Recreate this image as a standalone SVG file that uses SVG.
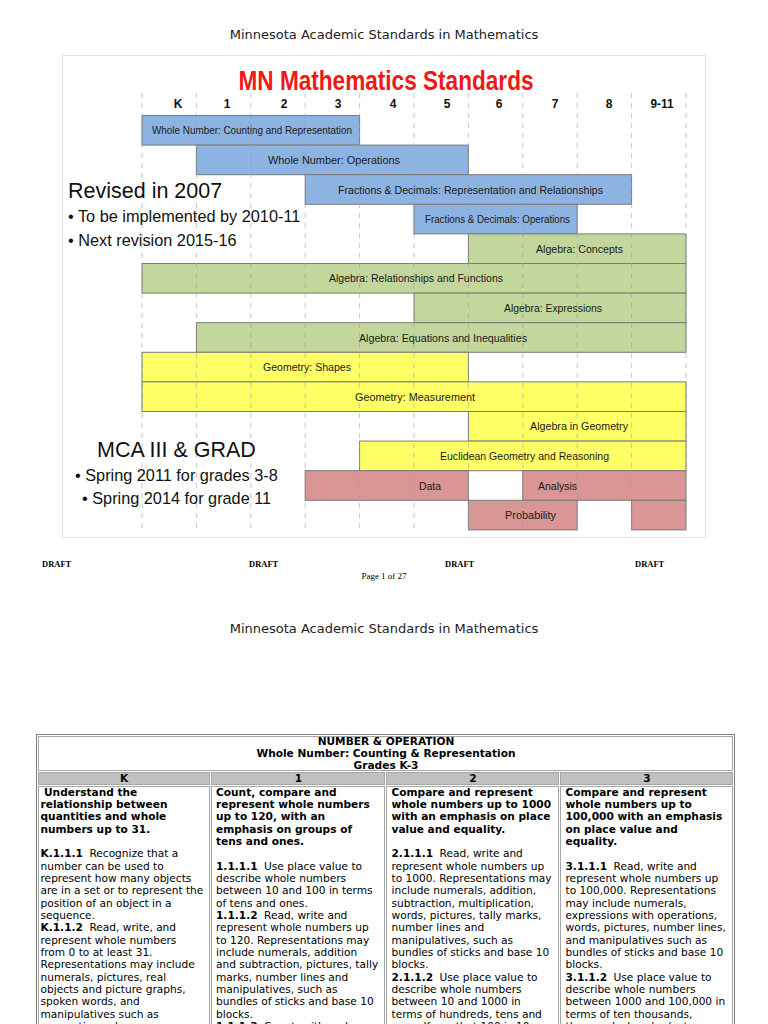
<svg xmlns="http://www.w3.org/2000/svg" width="768" height="1024" viewBox="0 0 768 1024">
<style>
.hdr{font-family:"DejaVu Sans",sans-serif;font-size:13px;fill:#222;text-anchor:middle}
.draft{font-family:"Liberation Serif",serif;font-size:8.5px;fill:#000;font-weight:bold}
.title{font-family:"Liberation Sans",sans-serif;font-weight:bold;font-size:27px;fill:#f01818;text-anchor:middle}
.col{font-family:"Liberation Sans",sans-serif;font-weight:bold;font-size:12px;fill:#111;text-anchor:middle}
.bl{font-family:"Liberation Sans",sans-serif;font-size:11px;fill:#1a1a1a}
.big{font-family:"Liberation Sans",sans-serif;font-size:21.5px;fill:#111}
.med{font-family:"Liberation Sans",sans-serif;font-size:16.3px;fill:#111}
.blue{fill:#8db3e2;stroke:#7a7a7a;stroke-width:1}
.green{fill:#c3d69b;stroke:#7a7a7a;stroke-width:1}
.yel{fill:#ffff66;stroke:#7a7a7a;stroke-width:1}
.pink{fill:#d99694;stroke:#7a7a7a;stroke-width:1}
.grid line{stroke:#9a9a9a;stroke-opacity:0.55;stroke-width:1;stroke-dasharray:5 5}
.tb{font-family:"DejaVu Sans",sans-serif;font-size:10.6px;fill:#000}
.b{font-weight:bold}
.cell{fill:#fff;stroke:#a6a6a6;stroke-width:1}
.hcell{fill:#c0c0c0;stroke:#a6a6a6;stroke-width:1}
</style>

<rect x="0" y="0" width="768" height="1024" fill="#fff"/>

<!-- Page 1 header -->
<text class="hdr" x="384" y="38.5">Minnesota Academic Standards in Mathematics</text>

<!-- Chart frame -->
<rect x="62.5" y="55.5" width="643" height="482" fill="none" stroke="#e4e4e4" stroke-width="1"/>

<text class="title" x="386" y="90" textLength="295" lengthAdjust="spacingAndGlyphs">MN Mathematics Standards</text>

<g id="grade-labels">
<text class="col" x="178" y="107.5">K</text>
<text class="col" x="227" y="107.5">1</text>
<text class="col" x="284" y="107.5">2</text>
<text class="col" x="338" y="107.5">3</text>
<text class="col" x="393" y="107.5">4</text>
<text class="col" x="447" y="107.5">5</text>
<text class="col" x="499" y="107.5">6</text>
<text class="col" x="555" y="107.5">7</text>
<text class="col" x="609" y="107.5">8</text>
<text class="col" x="662" y="107.5" textLength="23" lengthAdjust="spacingAndGlyphs">9-11</text>
</g>

<!-- Bars -->
<g id="bar-wn-counting"><rect class="blue" x="142" y="115.5" width="217.6" height="29.6"/><text class="bl" x="152" y="134.3" textLength="200" lengthAdjust="spacingAndGlyphs">Whole Number: Counting and Representation</text></g>
<g id="bar-wn-operations"><rect class="blue" x="196.4" y="145.1" width="272" height="29.6"/><text class="bl" x="268" y="163.9" textLength="132" lengthAdjust="spacingAndGlyphs">Whole Number: Operations</text></g>
<g id="bar-fd-representation"><rect class="blue" x="305.2" y="174.7" width="326.4" height="29.6"/><text class="bl" x="338" y="193.5" textLength="265" lengthAdjust="spacingAndGlyphs">Fractions &amp; Decimals: Representation and Relationships</text></g>
<g id="bar-fd-operations"><rect class="blue" x="414" y="204.3" width="163.2" height="29.6"/><text class="bl" x="425" y="223.1" textLength="145" lengthAdjust="spacingAndGlyphs">Fractions &amp; Decimals: Operations</text></g>
<g id="bar-alg-concepts"><rect class="green" x="468.4" y="233.9" width="217.6" height="29.6"/><text class="bl" x="536" y="252.7" textLength="87" lengthAdjust="spacingAndGlyphs">Algebra: Concepts</text></g>
<g id="bar-alg-relationships"><rect class="green" x="142" y="263.5" width="544" height="29.6"/><text class="bl" x="329" y="282.3" textLength="174" lengthAdjust="spacingAndGlyphs">Algebra: Relationships and Functions</text></g>
<g id="bar-alg-expressions"><rect class="green" x="414" y="293.1" width="272" height="29.6"/><text class="bl" x="504" y="311.9" textLength="98" lengthAdjust="spacingAndGlyphs">Algebra: Expressions</text></g>
<g id="bar-alg-equations"><rect class="green" x="196.4" y="322.7" width="489.6" height="29.6"/><text class="bl" x="359" y="341.5" textLength="168" lengthAdjust="spacingAndGlyphs">Algebra: Equations and Inequalities</text></g>
<g id="bar-geo-shapes"><rect class="yel" x="142" y="352.3" width="326.4" height="29.6"/><text class="bl" x="263" y="371.1" textLength="88" lengthAdjust="spacingAndGlyphs">Geometry: Shapes</text></g>
<g id="bar-geo-measurement"><rect class="yel" x="142" y="381.9" width="544" height="29.6"/><text class="bl" x="355" y="400.7" textLength="120" lengthAdjust="spacingAndGlyphs">Geometry: Measurement</text></g>
<g id="bar-alg-geometry"><rect class="yel" x="468.4" y="411.5" width="217.6" height="29.6"/><text class="bl" x="530" y="430.3" textLength="98" lengthAdjust="spacingAndGlyphs">Algebra in Geometry</text></g>
<g id="bar-euclidean"><rect class="yel" x="359.6" y="441.1" width="326.4" height="29.6"/><text class="bl" x="440" y="459.9" textLength="169" lengthAdjust="spacingAndGlyphs">Euclidean Geometry and Reasoning</text></g>
<g id="bar-data"><rect class="pink" x="305.2" y="470.7" width="163.2" height="29.6"/><text class="bl" x="419" y="489.5" textLength="22" lengthAdjust="spacingAndGlyphs">Data</text></g>
<g id="bar-analysis"><rect class="pink" x="522.8" y="470.7" width="163.2" height="29.6"/><text class="bl" x="538" y="489.5" textLength="39" lengthAdjust="spacingAndGlyphs">Analysis</text></g>
<g id="bar-probability"><rect class="pink" x="468.4" y="500.3" width="108.8" height="29.6"/><text class="bl" x="505" y="519.1" textLength="51" lengthAdjust="spacingAndGlyphs">Probability</text></g>
<g id="bar-probability-hs"><rect class="pink" x="631.6" y="500.3" width="54.4" height="29.6"/></g>

<!-- Grid (connectors) -->
<g id="connectors" class="grid">
<line x1="142" y1="93" x2="142" y2="530"/>
<line x1="196.4" y1="93" x2="196.4" y2="530"/>
<line x1="250.8" y1="93" x2="250.8" y2="530"/>
<line x1="305.2" y1="93" x2="305.2" y2="530"/>
<line x1="359.6" y1="93" x2="359.6" y2="530"/>
<line x1="414" y1="93" x2="414" y2="530"/>
<line x1="468.4" y1="93" x2="468.4" y2="530"/>
<line x1="522.8" y1="93" x2="522.8" y2="530"/>
<line x1="577.2" y1="93" x2="577.2" y2="530"/>
<line x1="631.6" y1="93" x2="631.6" y2="530"/>
<line x1="686" y1="93" x2="686" y2="530"/>
</g>

<!-- Left texts -->
<g id="revised">
<text class="big" x="68" y="197.5">Revised in 2007</text>
<text class="med" x="68" y="222">• To be implemented by 2010-11</text>
<text class="med" x="68" y="246">• Next revision 2015-16</text>
</g>
<g id="mca">
<text class="big" x="97" y="456.5">MCA III &amp; GRAD</text>
<text class="med" x="75" y="481">• Spring 2011 for grades 3-8</text>
<text class="med" x="82" y="504">• Spring 2014 for grade 11</text>
</g>

<!-- Footer -->
<g id="footer">
<text class="draft" x="42" y="567">DRAFT</text>
<text class="draft" x="249" y="567">DRAFT</text>
<text class="draft" x="445" y="567">DRAFT</text>
<text class="draft" x="635" y="567">DRAFT</text>
<text class="draft" x="384" y="579" text-anchor="middle" style="font-size:9px;font-weight:normal">Page 1 of 27</text>
</g>

<!-- Page 2 header -->
<text class="hdr" x="384" y="632.5">Minnesota Academic Standards in Mathematics</text>

<!-- Table -->
<g id="table">
<rect x="36.5" y="734.5" width="698" height="320" fill="#fff" stroke="#7f7f7f" stroke-width="1"/>
<rect class="cell" x="38.5" y="736.5" width="694" height="34"/>
<text class="tb b" x="386" y="744.5" text-anchor="middle">NUMBER &amp; OPERATION</text>
<text class="tb b" x="386" y="756.8" text-anchor="middle">Whole Number: Counting &amp; Representation</text>
<text class="tb b" x="386" y="769" text-anchor="middle">Grades K-3</text>
<rect class="hcell" x="38.5" y="772.5" width="171" height="12"/>
<rect class="hcell" x="211.5" y="772.5" width="173" height="12"/>
<rect class="hcell" x="386.5" y="772.5" width="172" height="12"/>
<rect class="hcell" x="560.5" y="772.5" width="172" height="12"/>
<text class="tb b" x="124" y="782" text-anchor="middle">K</text>
<text class="tb b" x="298.5" y="782" text-anchor="middle">1</text>
<text class="tb b" x="473" y="782" text-anchor="middle">2</text>
<text class="tb b" x="647" y="782" text-anchor="middle">3</text>
<rect class="cell" x="38.5" y="786.5" width="171" height="260"/>
<rect class="cell" x="211.5" y="786.5" width="173" height="260"/>
<rect class="cell" x="386.5" y="786.5" width="172" height="260"/>
<rect class="cell" x="560.5" y="786.5" width="172" height="260"/>
</g>

<g id="col-k">
<text class="tb" y="795.5">
<tspan class="b" x="44">Understand the</tspan>
<tspan class="b" x="40.5" dy="12.35">relationship between</tspan>
<tspan class="b" x="40.5" dy="12.35">quantities and whole</tspan>
<tspan class="b" x="40.5" dy="12.35">numbers up to 31.</tspan>
<tspan class="b" x="40.5" dy="24.7">K.1.1.1</tspan><tspan dx="6.5">Recognize that a</tspan>
<tspan x="40.5" dy="12.35">number can be used to</tspan>
<tspan x="40.5" dy="12.35">represent how many objects</tspan>
<tspan x="40.5" dy="12.35">are in a set or to represent the</tspan>
<tspan x="40.5" dy="12.35">position of an object in a</tspan>
<tspan x="40.5" dy="12.35">sequence.</tspan>
<tspan class="b" x="40.5" dy="12.35">K.1.1.2</tspan><tspan dx="6.5">Read, write, and</tspan>
<tspan x="40.5" dy="12.35">represent whole numbers</tspan>
<tspan x="40.5" dy="12.35">from 0 to at least 31.</tspan>
<tspan x="40.5" dy="12.35">Representations may include</tspan>
<tspan x="40.5" dy="12.35">numerals, pictures, real</tspan>
<tspan x="40.5" dy="12.35">objects and picture graphs,</tspan>
<tspan x="40.5" dy="12.35">spoken words, and</tspan>
<tspan x="40.5" dy="12.35">manipulatives such as</tspan>
<tspan x="40.5" dy="12.35">connecting cubes.</tspan>
</text>
</g>

<g id="col-1">
<text class="tb" y="795.5">
<tspan class="b" x="216">Count, compare and</tspan>
<tspan class="b" x="216" dy="12.35">represent whole numbers</tspan>
<tspan class="b" x="216" dy="12.35">up to 120, with an</tspan>
<tspan class="b" x="216" dy="12.35">emphasis on groups of</tspan>
<tspan class="b" x="216" dy="12.35">tens and ones.</tspan>
<tspan class="b" x="216" dy="24.7">1.1.1.1</tspan><tspan dx="6.5">Use place value to</tspan>
<tspan x="216" dy="12.35">describe whole numbers</tspan>
<tspan x="216" dy="12.35">between 10 and 100 in terms</tspan>
<tspan x="216" dy="12.35">of tens and ones.</tspan>
<tspan class="b" x="216" dy="12.35">1.1.1.2</tspan><tspan dx="6.5">Read, write and</tspan>
<tspan x="216" dy="12.35">represent whole numbers up</tspan>
<tspan x="216" dy="12.35">to 120. Representations may</tspan>
<tspan x="216" dy="12.35">include numerals, addition</tspan>
<tspan x="216" dy="12.35">and subtraction, pictures, tally</tspan>
<tspan x="216" dy="12.35">marks, number lines and</tspan>
<tspan x="216" dy="12.35">manipulatives, such as</tspan>
<tspan x="216" dy="12.35">bundles of sticks and base 10</tspan>
<tspan x="216" dy="12.35">blocks.</tspan>
<tspan class="b" x="216" dy="12.35">1.1.1.3</tspan><tspan dx="6.5">Count, with and</tspan>
</text>
</g>

<g id="col-2">
<text class="tb" y="795.5">
<tspan class="b" x="391.5">Compare and represent</tspan>
<tspan class="b" x="391.5" dy="12.35">whole numbers up to 1000</tspan>
<tspan class="b" x="391.5" dy="12.35">with an emphasis on place</tspan>
<tspan class="b" x="391.5" dy="12.35">value and equality.</tspan>
<tspan class="b" x="391.5" dy="24.7">2.1.1.1</tspan><tspan dx="6.5">Read, write and</tspan>
<tspan x="391.5" dy="12.35">represent whole numbers up</tspan>
<tspan x="391.5" dy="12.35">to 1000. Representations may</tspan>
<tspan x="391.5" dy="12.35">include numerals, addition,</tspan>
<tspan x="391.5" dy="12.35">subtraction, multiplication,</tspan>
<tspan x="391.5" dy="12.35">words, pictures, tally marks,</tspan>
<tspan x="391.5" dy="12.35">number lines and</tspan>
<tspan x="391.5" dy="12.35">manipulatives, such as</tspan>
<tspan x="391.5" dy="12.35">bundles of sticks and base 10</tspan>
<tspan x="391.5" dy="12.35">blocks.</tspan>
<tspan class="b" x="391.5" dy="12.35">2.1.1.2</tspan><tspan dx="6.5">Use place value to</tspan>
<tspan x="391.5" dy="12.35">describe whole numbers</tspan>
<tspan x="391.5" dy="12.35">between 10 and 1000 in</tspan>
<tspan x="391.5" dy="12.35">terms of hundreds, tens and</tspan>
<tspan x="391.5" dy="12.35">ones. Know that 100 is 10</tspan>
</text>
</g>

<g id="col-3">
<text class="tb" y="795.5">
<tspan class="b" x="565.5">Compare and represent</tspan>
<tspan class="b" x="565.5" dy="12.35">whole numbers up to</tspan>
<tspan class="b" x="565.5" dy="12.35">100,000 with an emphasis</tspan>
<tspan class="b" x="565.5" dy="12.35">on place value and</tspan>
<tspan class="b" x="565.5" dy="12.35">equality.</tspan>
<tspan class="b" x="565.5" dy="24.7">3.1.1.1</tspan><tspan dx="6.5">Read, write and</tspan>
<tspan x="565.5" dy="12.35">represent whole numbers up</tspan>
<tspan x="565.5" dy="12.35">to 100,000. Representations</tspan>
<tspan x="565.5" dy="12.35">may include numerals,</tspan>
<tspan x="565.5" dy="12.35">expressions with operations,</tspan>
<tspan x="565.5" dy="12.35">words, pictures, number lines,</tspan>
<tspan x="565.5" dy="12.35">and manipulatives such as</tspan>
<tspan x="565.5" dy="12.35">bundles of sticks and base 10</tspan>
<tspan x="565.5" dy="12.35">blocks.</tspan>
<tspan class="b" x="565.5" dy="12.35">3.1.1.2</tspan><tspan dx="6.5">Use place value to</tspan>
<tspan x="565.5" dy="12.35">describe whole numbers</tspan>
<tspan x="565.5" dy="12.35">between 1000 and 100,000 in</tspan>
<tspan x="565.5" dy="12.35">terms of ten thousands,</tspan>
<tspan x="565.5" dy="12.35">thousands, hundreds, tens</tspan>
</text>
</g>
</svg>
